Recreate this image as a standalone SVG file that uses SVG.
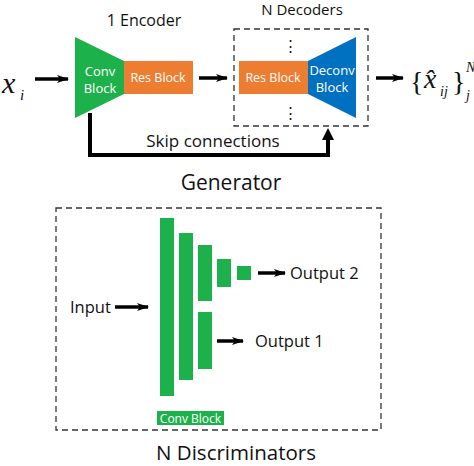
<svg xmlns="http://www.w3.org/2000/svg" width="474" height="466" viewBox="0 0 474 466">
<defs>
<marker id="ah" viewBox="0 0 12 8" refX="11" refY="4" markerWidth="12" markerHeight="8" markerUnits="userSpaceOnUse" orient="auto">
<path d="M0,0 L12,4 L0,8 L3,4 Z" fill="#000"/>
</marker>
<style>
.t{font-family:"Open Sans","Liberation Sans",sans-serif;fill:#111}
.w{font-family:"Open Sans","Liberation Sans",sans-serif;fill:#fff}
.m{font-family:"Liberation Serif","DejaVu Serif",serif;fill:#111}
.dash{fill:none;stroke:#333;stroke-width:1.3;stroke-dasharray:6,4}
.arr{stroke:#000;stroke-width:3.5;fill:none;marker-end:url(#ah)}
.g{fill:#1db14b}
</style>
</defs>
<rect width="474" height="466" fill="#fff"/>

<g id="input-x">
<text class="m" x="2" y="93" font-size="30" font-style="italic">x</text>
<text class="m" x="20" y="100" font-size="15" font-style="italic">i</text>
</g>

<g id="encoder">
<text class="t" x="144" y="26" font-size="16" text-anchor="middle">1 Encoder</text>
<polygon points="75,37 124,61 124,94 75,118" fill="#1db14b"/>
<text class="w" x="100" y="76" font-size="13" text-anchor="middle">Conv</text>
<text class="w" x="100" y="93" font-size="13" text-anchor="middle">Block</text>
<rect x="124" y="61" width="69" height="33" fill="#ed7d31"/>
<text class="w" x="158" y="82" font-size="12.5" text-anchor="middle">Res Block</text>
</g>

<g id="decoders">
<text class="t" x="302" y="15" font-size="15" text-anchor="middle">N Decoders</text>
<rect class="dash" x="234" y="29" width="134" height="97"/>
<text class="t" x="290" y="51" font-size="15" text-anchor="middle">⋮</text>
<text class="t" x="290" y="118" font-size="15" text-anchor="middle">⋮</text>
<rect x="239" y="61" width="69" height="33" fill="#ed7d31"/>
<text class="w" x="273" y="82" font-size="12.5" text-anchor="middle">Res Block</text>
<polygon points="308,61 356,37 356,118 308,94" fill="#0070c0"/>
<text class="w" x="332" y="75" font-size="13" text-anchor="middle">Deconv</text>
<text class="w" x="332" y="92" font-size="13" text-anchor="middle">Block</text>
</g>

<g id="output-x">
<text class="m" x="410" y="91" font-size="28">{</text>
<text class="m" x="424" y="88" font-size="28" font-style="italic">x̂</text>
<text class="m" x="440" y="96" font-size="14" font-style="italic">ij</text>
<text class="m" x="452" y="91" font-size="28">}</text>
<text class="m" x="466" y="72" font-size="14" font-style="italic">N</text>
<text class="m" x="466" y="100" font-size="14" font-style="italic">j</text>
</g>

<g id="generator-labels">
<text class="t" x="213" y="147" font-size="17" text-anchor="middle">Skip connections</text>
<text class="t" x="231" y="190" font-size="21" text-anchor="middle">Generator</text>
</g>

<g id="discriminators">
<rect class="dash" x="56" y="208" width="325" height="222"/>
<rect class="g" x="160" y="218" width="14" height="178"/>
<rect class="g" x="179" y="233" width="14" height="147"/>
<rect class="g" x="198" y="245" width="14" height="56"/>
<rect class="g" x="198" y="312" width="14" height="57"/>
<rect class="g" x="217" y="259" width="14" height="28"/>
<rect class="g" x="237" y="266" width="14" height="14"/>
<rect class="g" x="157" y="411" width="67" height="14"/>
<text class="w" x="190.5" y="422.5" font-size="12" text-anchor="middle">Conv Block</text>
<text class="t" x="70" y="313" font-size="16.5">Input</text>
<text class="t" x="290" y="279" font-size="16.5">Output 2</text>
<text class="t" x="255" y="347" font-size="16.5">Output 1</text>
<text class="t" x="236" y="460" font-size="20.5" text-anchor="middle">N Discriminators</text>
</g>

<g id="connectors">
<line class="arr" x1="35" y1="79" x2="68" y2="79"/>
<line class="arr" x1="199" y1="78" x2="227" y2="78"/>
<line class="arr" x1="376" y1="78" x2="403" y2="78"/>
<polyline points="90,113 90,155 328,155 328,139" fill="none" stroke="#000" stroke-width="4"/>
<path d="M328,128 L334,140 L322,140 Z" fill="#000"/>
<line class="arr" x1="115" y1="307" x2="148" y2="307"/>
<line class="arr" x1="258" y1="273" x2="285" y2="273"/>
<line class="arr" x1="217" y1="341" x2="243" y2="341"/>
</g>
</svg>
